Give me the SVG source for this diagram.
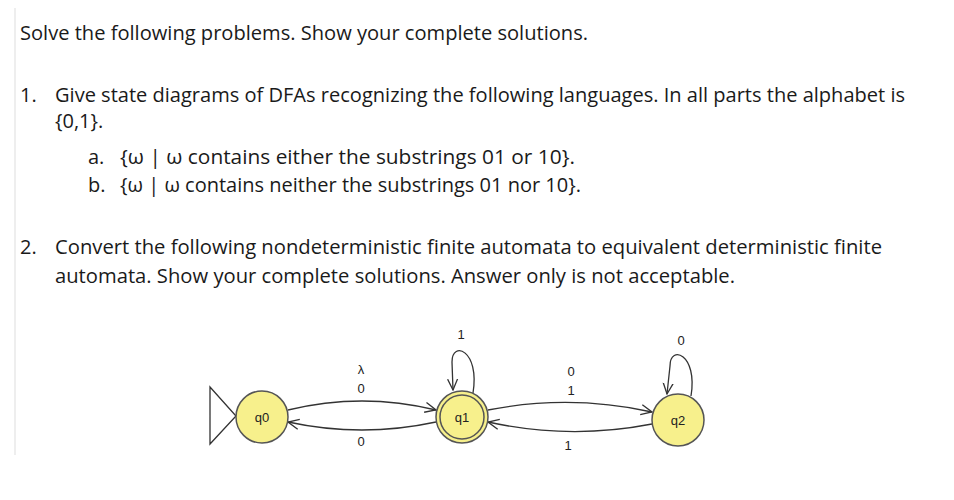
<svg xmlns="http://www.w3.org/2000/svg" width="954" height="500" viewBox="0 0 954 500">
<style>
.t{font-family:"Open Sans","Liberation Sans",sans-serif;font-size:20px;fill:#1a1a1a}
.l{font-family:"Liberation Sans",sans-serif;font-size:13px;fill:#222;text-anchor:middle}
.n{fill:#f7f08c;stroke:#555;stroke-width:1.5}
.e{fill:none;stroke:#333;stroke-width:1.3}
</style>
<defs><marker id="a" viewBox="0 0 12 12" refX="11" refY="6" markerWidth="12" markerHeight="12" markerUnits="userSpaceOnUse" orient="auto"><path d="M0,1 L11,6 L0,11" fill="none" stroke="#333" stroke-width="1.3"/></marker></defs>
<rect width="954" height="500" fill="#fff"/>
<line x1="15" y1="8" x2="15" y2="455" stroke="#ddd"/>
<text class="t" x="20" y="40" textLength="568" lengthAdjust="spacingAndGlyphs">Solve the following problems. Show your complete solutions.</text>
<text class="t" x="20" y="102">1.</text>
<text class="t" x="55" y="102" textLength="850" lengthAdjust="spacingAndGlyphs">Give state diagrams of DFAs recognizing the following languages. In all parts the alphabet is</text>
<text class="t" x="55" y="128">{0,1}.</text>
<text class="t" x="88" y="164">a.</text>
<text class="t" x="120" y="164" textLength="455" lengthAdjust="spacingAndGlyphs">{ω | ω contains either the substrings 01 or 10}.</text>
<text class="t" x="88" y="192">b.</text>
<text class="t" x="120" y="192" textLength="461" lengthAdjust="spacingAndGlyphs">{ω | ω contains neither the substrings 01 nor 10}.</text>
<text class="t" x="20" y="254">2.</text>
<text class="t" x="55" y="254" textLength="827" lengthAdjust="spacingAndGlyphs">Convert the following nondeterministic finite automata to equivalent deterministic finite</text>
<text class="t" x="55" y="283" textLength="680" lengthAdjust="spacingAndGlyphs">automata. Show your complete solutions. Answer only is not acceptable.</text>
<g id="edges">
<path class="e" d="M210,387 L236,416 L210,444 Z"/>
<path class="e" d="M288,410 Q362,392 436,410" marker-end="url(#a)"/>
<path class="e" d="M436,422 Q362,438 288,422" marker-end="url(#a)"/>
<path class="e" d="M488,410 Q570,394 652,412" marker-end="url(#a)"/>
<path class="e" d="M652,424 Q570,440 488,422" marker-end="url(#a)"/>
<path class="e" d="M473,393 C480,350 452,340 452,362 L453,390" marker-end="url(#a)"/>
<path class="e" d="M691,396 C698,354 670,344 670,366 L667,394" marker-end="url(#a)"/>
</g>
<g id="q0"><circle class="n" cx="262" cy="417" r="26"/><text class="l" x="262" y="422">q0</text></g>
<g id="q1"><circle class="n" cx="462" cy="417" r="26"/><circle class="n" cx="462" cy="417" r="22"/><text class="l" x="462" y="422">q1</text></g>
<g id="q2"><circle class="n" cx="678" cy="420" r="26"/><text class="l" x="678" y="425">q2</text></g>
<g id="labels">
<text class="l" x="361" y="374">λ</text>
<text class="l" x="361" y="393">0</text>
<text class="l" x="361" y="446">0</text>
<text class="l" x="571" y="376">0</text>
<text class="l" x="571" y="395">1</text>
<text class="l" x="568" y="450">1</text>
<text class="l" x="461" y="339">1</text>
<text class="l" x="681" y="345">0</text>
</g>
</svg>
